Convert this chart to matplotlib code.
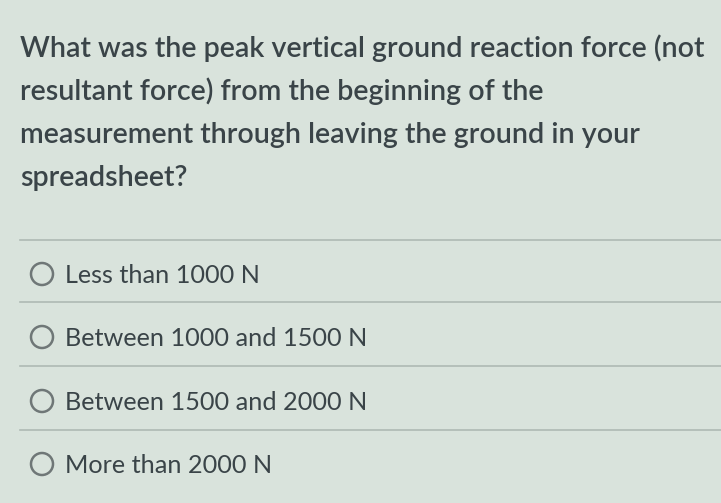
import matplotlib
matplotlib.use("Agg")
import matplotlib.pyplot as plt
from matplotlib.patches import Circle

question_lines = [
    "What was the peak vertical ground reaction force (not",
    "resultant force) from the beginning of the",
    "measurement through leaving the ground in your",
    "spreadsheet?",
]
options = [
    "Less than 1000 N",
    "Between 1000 and 1500 N",
    "Between 1500 and 2000 N",
    "More than 2000 N",
]

W, H = 721, 503
fig = plt.figure(figsize=(W / 100, H / 100), dpi=100)
fig.patch.set_facecolor("#d9e3dc")
ax = fig.add_axes([0, 0, 1, 1])
ax.set_xlim(0, W)
ax.set_ylim(H, 0)
ax.axis("off")
ax.set_facecolor("#d9e3dc")

text_col = "#3a4448"
q_base = 57
q_step = 43
for i, line in enumerate(question_lines):
    ax.text(20, q_base + i * q_step, line, fontsize=20.6, family="Lato",
            fontweight="semibold", color=text_col, va="baseline", ha="left")

sep_y = [240, 302, 366, 430]
for y in sep_y:
    ax.plot([20, W], [y, y], color="#aebab4", lw=1.2)

opt_y = [274, 337, 401, 464]
for y, lab in zip(opt_y, options):
    ax.add_patch(Circle((42, y), 11, facecolor="none", edgecolor="#6f7777", lw=1.8))
    ax.text(65, y + 9, lab, fontsize=18.2, family="Lato", color=text_col,
            va="baseline", ha="left")

fig.savefig("out.png", dpi=100, facecolor=fig.get_facecolor())
